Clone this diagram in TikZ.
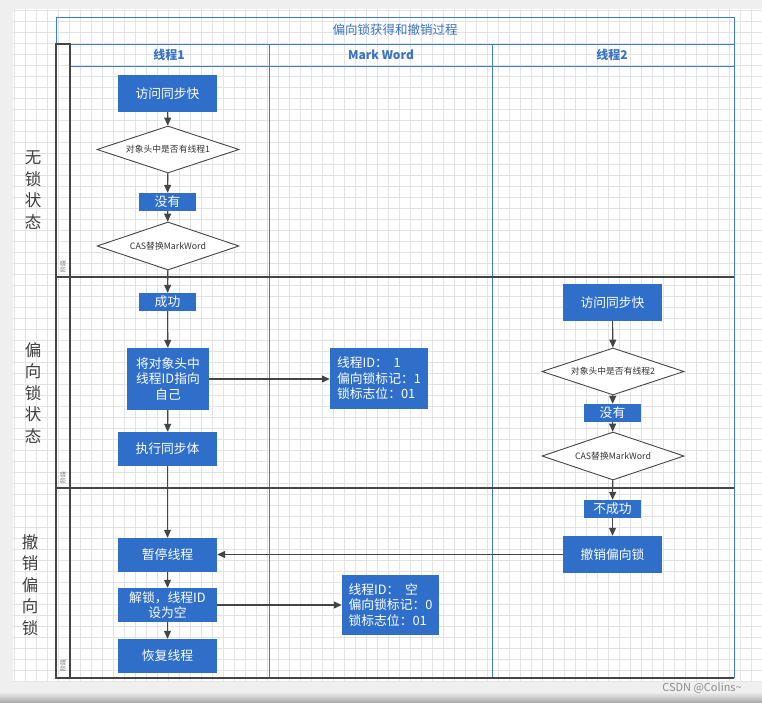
\documentclass[tikz,border=0pt]{standalone}
\usepackage{fontspec}
\setmainfont{Noto Sans CJK SC}
\usetikzlibrary{shapes.geometric}
\usetikzlibrary{arrows.meta}

\definecolor{boxblue}{HTML}{2F6FCA}
\definecolor{laneblue}{HTML}{3F7BD3}
\definecolor{headblue}{HTML}{3A72C4}
\definecolor{darkline}{HTML}{454545}
\definecolor{gridgray}{HTML}{E3E3E3}
\definecolor{pagegray}{HTML}{EFEFEF}

\tikzset{
	stepbox/.style={fill=boxblue, text=white, font=\fontsize{12.8}{15.5}\selectfont, align=center, inner sep=0pt},
	wide/.style={stepbox, minimum width=99pt, minimum height=34pt},
	tag/.style={stepbox, minimum width=57pt, minimum height=18pt},
	check/.style={diamond, draw=darkline, line width=0.9pt, fill=white, shape aspect=3, inner sep=0pt, minimum width=142pt, minimum height=47pt, font=\fontsize{8.8}{10}\selectfont, text=black!80},
	flow/.style={-{Triangle[length=8pt, width=7pt]}, draw=darkline, line width=1.1pt},
	rowtitle/.style={font=\fontsize{16.5}{21.5}\selectfont, text=black!75, align=center},
	lanetitle/.style={font=\fontsize{12}{14}\selectfont\bfseries, text=headblue},
	phase/.style={font=\fontsize{6}{6}\selectfont, text=black!60, rotate=90}
}

\begin{document}
\begin{tikzpicture}[x=1pt, y=-1pt]
	\useasboundingbox (0,0) rectangle (762,703);
	\fill [pagegray] (0,0) rectangle (762,703);
	\shade [top color=pagegray, bottom color=black!35] (0,692) rectangle (762,703); % Schatten unten
	\fill [white] (13,9) rectangle (762,681); % Zeichenfläche
	\foreach \gx in {14,25,...,762} \draw [gridgray, line width=0.6pt] (\gx,9) -- (\gx,681);
	\foreach \gy in {10,21,...,681} \draw [gridgray, line width=0.6pt] (13,\gy) -- (762,\gy);

	% Rahmen und Bahnen
	\draw [laneblue, line width=0.9pt] (56,17) rectangle (734,44);
	\draw [laneblue, line width=0.9pt] (70,66) -- (734,66);
	\draw [laneblue, line width=0.9pt] (269,44) -- (269,678);
	\draw [laneblue, line width=0.9pt] (492,44) -- (492,678);
	\draw [laneblue, line width=0.9pt] (734,44) -- (734,678);
	\draw [darkline, line width=1.6pt] (56,44) rectangle (70,678);
	\draw [darkline, line width=1.6pt] (56,277) -- (734,277);
	\draw [darkline, line width=1.6pt] (56,488) -- (734,488);
	\draw [darkline, line width=1.6pt] (56,678) -- (734,678);

	\node (title) [font=\fontsize{12.5}{14}\selectfont, text=headblue] at (395,30) {偏向锁获得和撤销过程};
	\node (lane1) [lanetitle] at (169,55) {线程1};
	\node (lane2) [lanetitle] at (381,55) {Mark Word};
	\node (lane3) [lanetitle] at (612,55) {线程2};

	\node (row1) [rowtitle] at (33,190) {无\\锁\\状\\态};
	\node (row2) [rowtitle] at (33,393) {偏\\向\\锁\\状\\态};
	\node (row3) [rowtitle] at (30,585) {撤\\销\\偏\\向\\锁};
	\node (ph1) [phase] at (63,266) {阶段};
	\node (ph2) [phase] at (63,477) {阶段};
	\node (ph3) [phase] at (63,665) {阶段};

	% Thread 1
	\node (n1) [wide, minimum height=37pt] at (167.5,93.5) {访问同步快};
	\node (d1) [check] at (168,149.5) {对象头中是否有线程1};
	\node (n2) [tag] at (167.5,202) {没有};
	\node (d2) [check, minimum height=48pt] at (168,246) {CAS替换MarkWord};
	\node (n3) [tag] at (167.5,302) {成功};
	\node (n4) [stepbox, minimum width=82pt, minimum height=62pt] at (168,379) {将对象头中\\线程ID指向\\自己};
	\node (n5) [wide] at (167.5,449) {执行同步体};
	\node (n6) [wide] at (167.5,555) {暂停线程};
	\node (n7) [wide] at (167.5,605) {解锁，线程ID\\设为空};
	\node (n8) [wide] at (167.5,656) {恢复线程};

	% Mark Word
	\node (m1) [stepbox, align=left, minimum width=98pt, minimum height=61pt] at (379,378.5) {线程ID：\ \ 1\\偏向锁标记：1\\锁标志位：01};
	\node (m2) [stepbox, align=left, minimum width=97pt, minimum height=60pt] at (390.5,605) {线程ID：\ \ 空\\偏向锁标记：0\\锁标志位：01};

	% Thread 2
	\node (t1) [wide, minimum height=37pt] at (612.5,302.5) {访问同步快};
	\node (t2) [check] at (613,371.5) {对象头中是否有线程2};
	\node (t3) [tag] at (612.5,413) {没有};
	\node (t4) [check, minimum height=48pt] at (613,456) {CAS替换MarkWord};
	\node (t5) [tag] at (612.5,509) {不成功};
	\node (t6) [wide, minimum height=37pt] at (612.5,554.5) {撤销偏向锁};

	\draw [flow] (n1) -- (d1);
	\draw [flow] (d1) -- (n2);
	\draw [flow] (n2) -- (d2);
	\draw [flow] (d2) -- (n3);
	\draw [flow] (n3) -- (n4);
	\draw [flow] (n4) -- (n5);
	\draw [flow] (n5) -- (n6);
	\draw [flow] (n6) -- (n7);
	\draw [flow] (n7) -- (n8);
	\draw [flow] (n4.east) -- (n4.east -| m1.west);
	\draw [flow] (n7.east) -- (n7.east -| m2.west);
	\draw [flow] (t1) -- (t2);
	\draw [flow] (t2) -- (t3);
	\draw [flow] (t3) -- (t4);
	\draw [flow] (t4) -- (t5);
	\draw [flow] (t5) -- (t6);
	\draw [flow] (t6.west) -- (t6.west -| n6.east);

	\node (mark) [font=\fontsize{11}{12}\selectfont, text=black!45] at (702,688) {CSDN @Colins\textasciitilde};
\end{tikzpicture}
\end{document}
